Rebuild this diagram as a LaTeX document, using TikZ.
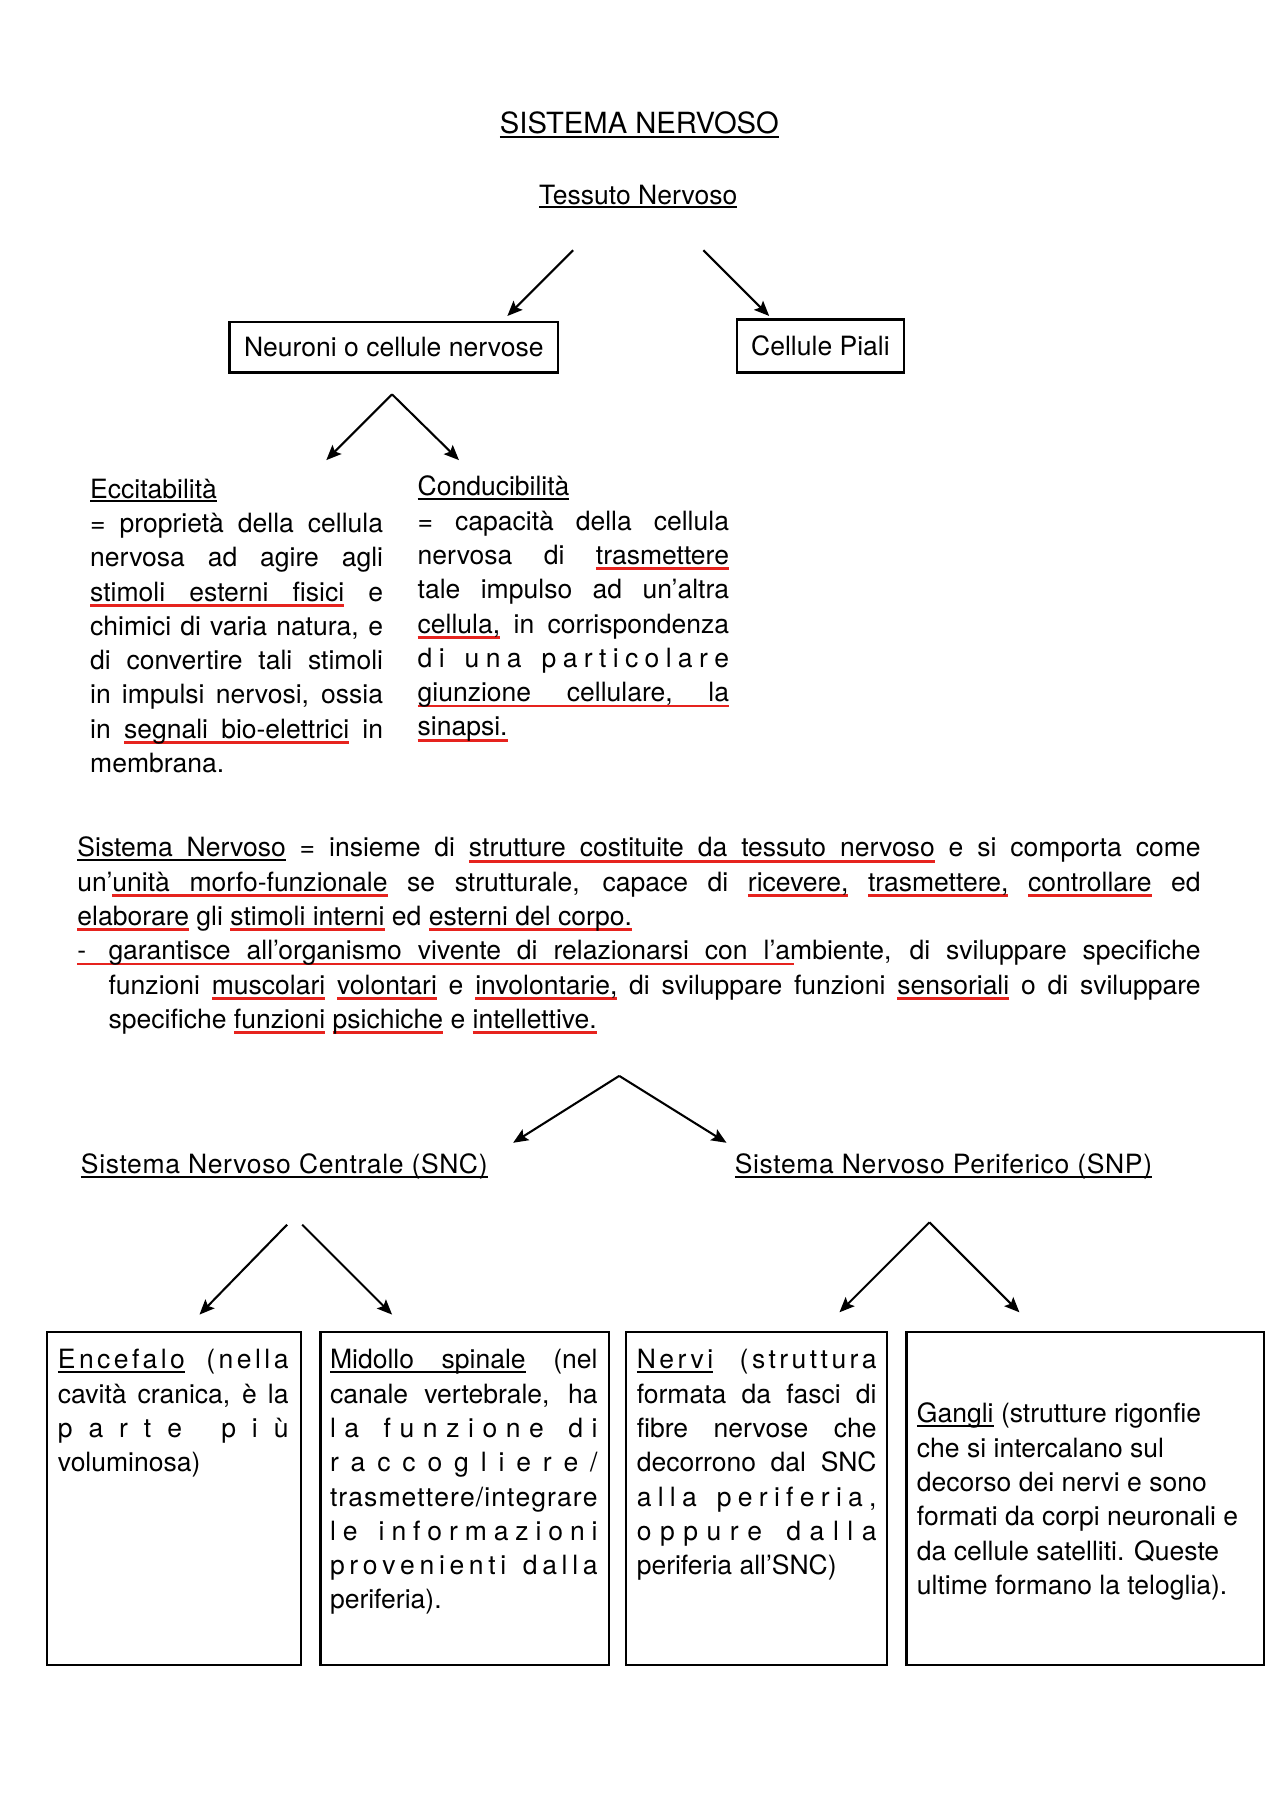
\documentclass[tikz,border=0pt]{standalone}
\usepackage{fontspec}
\setmainfont{TeX Gyre Heros}
\usetikzlibrary{arrows.meta}
\definecolor{ured}{RGB}{230,35,30}
\newcommand\BLK[2]{\vtop{\hsize=#1\relax #2}}
\newcommand\JL[1]{\hbox to\hsize{\strut#1}}
\newcommand\NL[1]{\hbox to\hsize{\strut#1\hfil}}
\ExplSyntaxOn
\seq_new:N \l_my_words_seq
\seq_new:N \l_my_ul_seq
\bool_new:N \l_my_first_bool
\bool_new:N \l_my_firstc_bool
\bool_new:N \l_my_ulfirst_bool
\box_new:N \l_my_ul_box
\NewDocumentCommand \LS { m }
  {
    \seq_set_split:Nnn \l_my_words_seq { ~ } { #1 }
    \bool_set_true:N \l_my_first_bool
    \seq_map_inline:Nn \l_my_words_seq
      {
        \bool_if:NF \l_my_first_bool { \c_space_tl \hfil \hfil }
        \bool_set_false:N \l_my_first_bool
        \bool_set_true:N \l_my_firstc_bool
        \tl_map_inline:nn { ##1 }
          {
            \bool_if:NF \l_my_firstc_bool { \hfil }
            \bool_set_false:N \l_my_firstc_bool
            ####1
          }
      }
  }
\cs_new_protected:Npn \my_ul:nnnn #1#2#3#4
  {
    \seq_set_split:Nnn \l_my_ul_seq { ~ } { #4 }
    \bool_set_true:N \l_my_ulfirst_bool
    \seq_map_inline:Nn \l_my_ul_seq
      {
        \bool_if:NF \l_my_ulfirst_bool
          {
            \textcolor{#1}{\leaders\hrule height \dim_eval:n {#3-#2} depth #2
              \hskip \fontdimen2\font plus \fontdimen3\font minus \fontdimen4\font}
          }
        \bool_set_false:N \l_my_ulfirst_bool
        \hbox_set:Nn \l_my_ul_box { ##1 }
        \rlap{\textcolor{#1}{\rule[-#2]{\box_wd:N \l_my_ul_box}{#3}}}
        \box_use:N \l_my_ul_box
      }
  }
\NewDocumentCommand \redu { m } { \my_ul:nnnn {ured} {5pt} {2.4pt} {#1} }
\NewDocumentCommand \blku { m } { \my_ul:nnnn {black} {3.4pt} {1.5pt} {#1} }
\ExplSyntaxOff
\newcommand\LL[1]{\hbox to\hsize{\strut\LS{#1}}}
\begin{document}
\begin{tikzpicture}[x=1pt,y=-1pt,
  every node/.style={font=\fontsize{23}{29.75}\selectfont, inner sep=0pt},
  arr/.style={line width=1.8pt, -{Stealth[length=13pt,width=11pt,inset=2.5pt]}},
  frame/.style={draw, line width=2pt, anchor=north west},
  txt/.style={anchor=base west}]
\useasboundingbox (0,0) rectangle (1110,1570.5);

% titles
\node[anchor=base, font=\fontsize{25.3}{30}\selectfont] (title) at (554.5,116) {\blku{SISTEMA NERVOSO}};
\node[anchor=base] (tessuto) at (553.5,177) {\blku{Tessuto Nervoso}};

% first level boxes
\node[frame, minimum width=285pt, minimum height=44pt] (neuroni) at (198,278) {Neuroni o cellule nervose};
\node[frame, minimum width=145pt, minimum height=46pt] (piali) at (638,276) {Cellule Piali};

% arrows level 1
\coordinate (a1s) at (497,217); \coordinate (a1e) at (440,274);
\coordinate (a2s) at (610,217); \coordinate (a2e) at (667,274);
\draw[arr] (a1s) -- (a1e);
\draw[arr] (a2s) -- (a2e);

\coordinate (a3s) at (340,342); \coordinate (a3e) at (283,399);
\coordinate (a4e) at (398,399);
\draw[arr] (a3s) -- (a3e);
\draw[arr] (a3s) -- (a4e);

% Eccitabilita
\node[txt] (eccit) at (78,432) {\BLK{254pt}{%
\NL{\blku{Eccitabilità}}
\JL{= proprietà della cellula}
\JL{nervosa ad agire agli}
\JL{\redu{stimoli esterni fisici} e}
\JL{chimici di varia natura, e}
\JL{di convertire tali stimoli}
\JL{in impulsi nervosi, ossia}
\JL{in \redu{segnali bio-elettrici} in}
\NL{membrana.}}};

% Conducibilita
\node[txt] (condu) at (362,430) {\BLK{270pt}{%
\NL{\blku{Conducibilità}}
\JL{= capacità della cellula}
\JL{nervosa di \redu{trasmettere}}
\JL{tale impulso ad un’altra}
\JL{\redu{cellula,} in corrispondenza}
\LL{di una particolare}
\JL{\redu{giunzione cellulare, la}}
\NL{\redu{sinapsi.}}}};

% paragraph
\node[txt] (para) at (67,743) {\BLK{974pt}{%
\JL{\blku{Sistema Nervoso} = insieme di \redu{strutture costituite da tessuto nervoso} e si comporta come}
\JL{un’\redu{unità morfo-funzionale} se strutturale, capace di \redu{ricevere,} \redu{trasmettere,} \redu{controllare} ed}
\NL{\redu{elaborare} gli \redu{stimoli interni} ed \redu{esterni del corpo.}}
\JL{\rlap{\textcolor{ured}{\rule[-5pt]{621pt}{2.4pt}}}\makebox[27pt][l]{-}garantisce all’organismo vivente di relazionarsi con l’ambiente, di sviluppare specifiche}
\JL{\hskip27pt funzioni \redu{muscolari} \redu{volontari} e \redu{involontarie,} di sviluppare funzioni \redu{sensoriali} o di sviluppare}
\NL{\hskip27pt specifiche \redu{funzioni} \redu{psichiche} e \redu{intellettive.}}}};

% arrows level 2
\coordinate (a5s) at (537,933); \coordinate (a5e) at (445,991);
\coordinate (a6e) at (630,991);
\draw[arr] (a5s) -- (a5e);
\draw[arr] (a5s) -- (a6e);

\node[txt] (snc) at (70,1018) {\addfontfeature{LetterSpace=2.4}\blku{Sistema Nervoso Centrale (SNC)}};
\node[txt] (snp) at (637,1018) {\addfontfeature{LetterSpace=2.4}\blku{Sistema Nervoso Periferico (SNP)}};

% arrows level 3
\coordinate (a7s) at (249,1062); \coordinate (a7e) at (173,1140);
\coordinate (a8s) at (262,1062); \coordinate (a8e) at (340,1140);
\coordinate (a9s) at (806,1060); \coordinate (a9e) at (728,1138);
\coordinate (a10e) at (884,1138);
\draw[arr] (a7s) -- (a7e);
\draw[arr] (a8s) -- (a8e);
\draw[arr] (a9s) -- (a9e);
\draw[arr] (a9s) -- (a10e);

% bottom boxes
\node[frame, minimum width=220pt, minimum height=289pt] (box1) at (40,1154) {};
\node[frame, minimum width=250pt, minimum height=289pt] (box2) at (277,1154) {};
\node[frame, minimum width=226pt, minimum height=289pt] (box3) at (542,1154) {};
\node[frame, minimum width=310pt, minimum height=289pt] (box4) at (785,1154) {};

\node[txt] (enc) at (50,1187) {\BLK{200pt}{%
\JL{{\addfontfeature{LetterSpace=13}\blku{Encefalo} (nella}}
\JL{cavità cranica, è la}
\LL{parte più}
\NL{voluminosa)}}};

\node[txt] (mid) at (286,1187) {\BLK{232pt}{%
\JL{\blku{Midollo spinale} (nel}
\JL{canale vertebrale, ha}
\LL{la funzione di}
\LL{raccogliere/}
\LL{trasmettere/integrare}
\LL{le informazioni}
\LL{provenienti dalla}
\NL{periferia).}}};

\node[txt] (ner) at (552,1187) {\BLK{208pt}{%
\JL{{\addfontfeature{LetterSpace=13}\blku{Nervi} (struttura}}
\JL{formata da fasci di}
\JL{fibre nervose che}
\JL{decorrono dal SNC}
\LL{alla periferia,}
\LL{oppure dalla}
\NL{periferia all’SNC)}}};

\node[txt] (gan) at (795,1234) {\BLK{292pt}{%
\NL{\blku{Gangli} (strutture rigonfie}
\NL{che si intercalano sul}
\NL{decorso dei nervi e sono}
\NL{formati da corpi neuronali e}
\NL{da cellule satelliti. Queste}
\NL{ultime formano la teloglia).}}};
\end{tikzpicture}
\end{document}
